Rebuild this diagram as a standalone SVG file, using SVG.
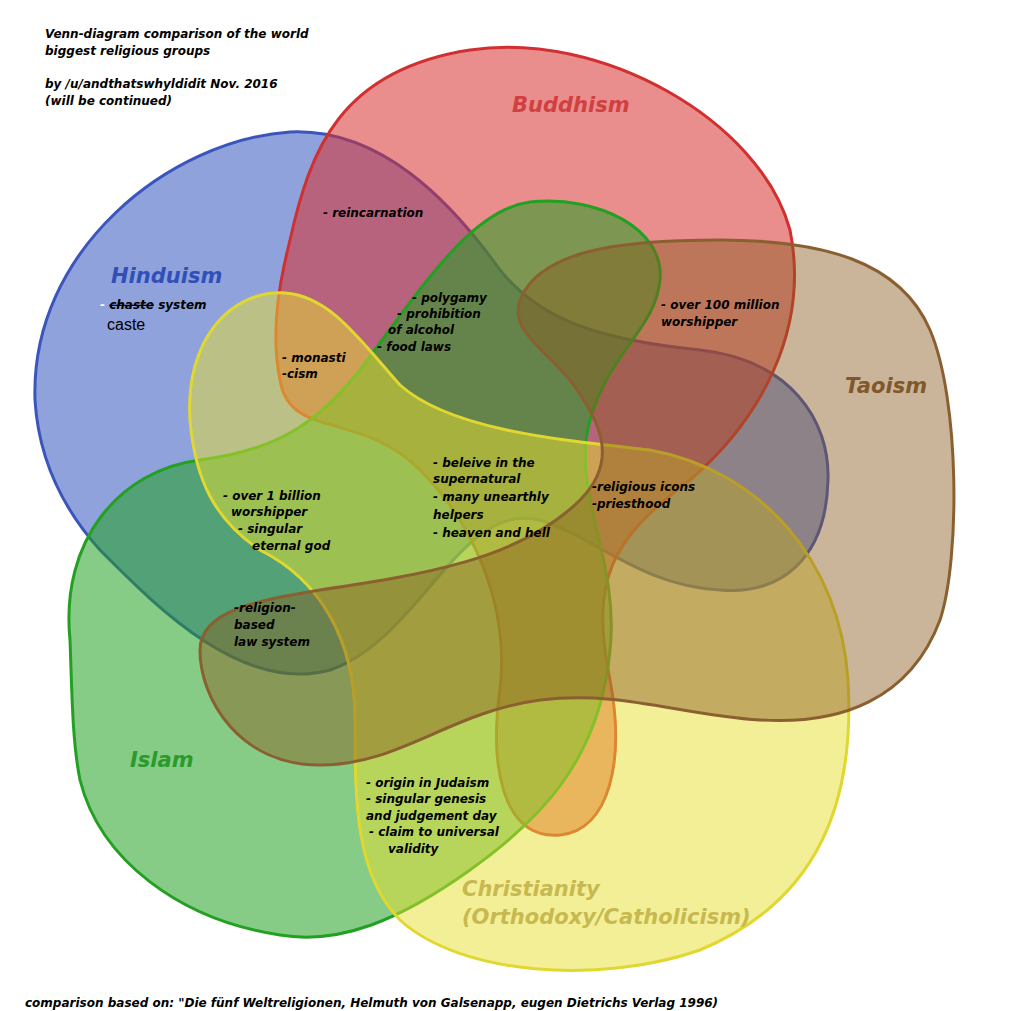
<svg xmlns="http://www.w3.org/2000/svg" width="1024" height="1011" viewBox="0 0 1024 1011">
<style>
.b{stroke-width:3}
.t{font-family:"DejaVu Sans",sans-serif;font-weight:bold;font-style:italic;font-size:12px;fill:#000}
.h{font-family:"DejaVu Sans",sans-serif;font-weight:bold;font-style:italic;font-size:21px}
</style>
<rect width="1024" height="1011" fill="#fff"/>
<g id="hinduism-set"><path class="b" fill="#3355c0" fill-opacity="0.55" stroke="#3a55bb" d="M35,400 C30,250 170,140 290,132 C380,128 450,200 500,270 C540,320 600,340 700,350 C790,360 830,420 828,480 C826,560 780,595 720,590 C640,585 600,540 540,520 C460,500 420,640 330,670 C240,695 150,600 100,550 C55,500 38,450 35,400 Z"/></g>
<g id="buddhism-set"><path class="b" fill="#d83030" fill-opacity="0.55" stroke="#d03030" d="M290,240 C310,150 340,70 470,50 C600,30 760,120 790,230 C810,330 760,420 690,480 C610,540 590,580 610,680 C625,760 610,830 560,835 C500,840 490,760 500,690 C510,600 470,520 420,470 C360,410 290,440 280,380 C270,330 280,280 290,240 Z"/></g>
<g id="islam-set"><path class="b" fill="#22a022" fill-opacity="0.55" stroke="#22a022" d="M70,640 C60,540 120,470 200,460 C280,450 320,420 360,370 C420,290 470,210 530,202 C600,195 665,230 660,280 C655,330 610,350 590,420 C570,490 620,560 610,650 C600,760 540,820 470,870 C400,920 340,945 280,935 C180,920 100,860 80,780 C72,740 72,690 70,640 Z"/></g>
<g id="christianity-set"><path class="b" fill="#e8e030" fill-opacity="0.5" stroke="#e0d830" d="M190,420 C185,340 230,290 285,293 C330,296 360,340 400,385 C450,430 560,440 650,450 C760,470 840,560 848,680 C855,800 820,900 700,950 C600,985 460,975 400,920 C355,875 355,800 355,720 C355,640 320,580 260,550 C215,520 195,480 190,420 Z"/></g>
<g id="taoism-set"><path class="b" fill="#8a5a20" fill-opacity="0.45" stroke="#8a6030" d="M520,300 C540,250 620,240 720,240 C820,240 900,260 930,330 C960,400 960,560 940,620 C910,700 840,725 760,720 C680,715 620,690 540,700 C450,712 400,765 320,765 C240,765 200,700 200,650 C200,610 260,600 320,590 C420,575 520,560 580,500 C620,460 600,420 570,380 C540,345 510,330 520,300 Z"/></g>
<g id="labels">
<text class="h" x="512" y="112" fill="#d04040">Buddhism</text>
<text class="h" x="111" y="283" fill="#3050b8">Hinduism</text>
<text class="h" x="845" y="393" fill="#80582a">Taoism</text>
<text class="h" x="130" y="767" fill="#2a9a2a">Islam</text>
<text class="h" x="462" y="896" fill="#c8b850">Christianity</text>
<text class="h" x="462" y="924" fill="#c8b850">(Orthodoxy/Catholicism)</text>
<text class="t" x="45" y="38">Venn-diagram comparison of the world</text>
<text class="t" x="45" y="55">biggest religious groups</text>
<text class="t" x="45" y="88">by /u/andthatswhyldidit Nov. 2016</text>
<text class="t" x="45" y="105">(will be continued)</text>
<text class="t" x="323" y="217">- reincarnation</text>
<text class="t" x="100" y="309"><tspan fill="#fff">-</tspan> <tspan text-decoration="line-through">chaste</tspan> system</text>
<text x="107" y="330" font-family="Liberation Sans,sans-serif" font-size="16">caste</text>
<text class="t" x="412" y="302">- polygamy</text>
<text class="t" x="397" y="318">- prohibition</text>
<text class="t" x="388" y="334">of alcohol</text>
<text class="t" x="377" y="351">- food laws</text>
<text class="t" x="661" y="309">- over 100 million</text>
<text class="t" x="661" y="326">worshipper</text>
<text class="t" x="282" y="362">- monasti</text>
<text class="t" x="282" y="378">-cism</text>
<text class="t" x="433" y="467">- beleive in the</text>
<text class="t" x="433" y="483">supernatural</text>
<text class="t" x="433" y="501">- many unearthly</text>
<text class="t" x="433" y="519">helpers</text>
<text class="t" x="433" y="537">- heaven and hell</text>
<text class="t" x="592" y="491">-religious icons</text>
<text class="t" x="592" y="508">-priesthood</text>
<text class="t" x="223" y="500">- over 1 billion</text>
<text class="t" x="231" y="516">worshipper</text>
<text class="t" x="238" y="533">- singular</text>
<text class="t" x="252" y="550">eternal god</text>
<text class="t" x="234" y="612">-religion-</text>
<text class="t" x="234" y="629">based</text>
<text class="t" x="234" y="646">law system</text>
<text class="t" x="366" y="787">- origin in Judaism</text>
<text class="t" x="366" y="803">- singular genesis</text>
<text class="t" x="366" y="820">and judgement day</text>
<text class="t" x="369" y="836">- claim to universal</text>
<text class="t" x="388" y="853">validity</text>
<text class="t" x="25" y="1007">comparison based on: "Die fünf Weltreligionen, Helmuth von Galsenapp, eugen Dietrichs Verlag 1996)</text>
</g>
</svg>
